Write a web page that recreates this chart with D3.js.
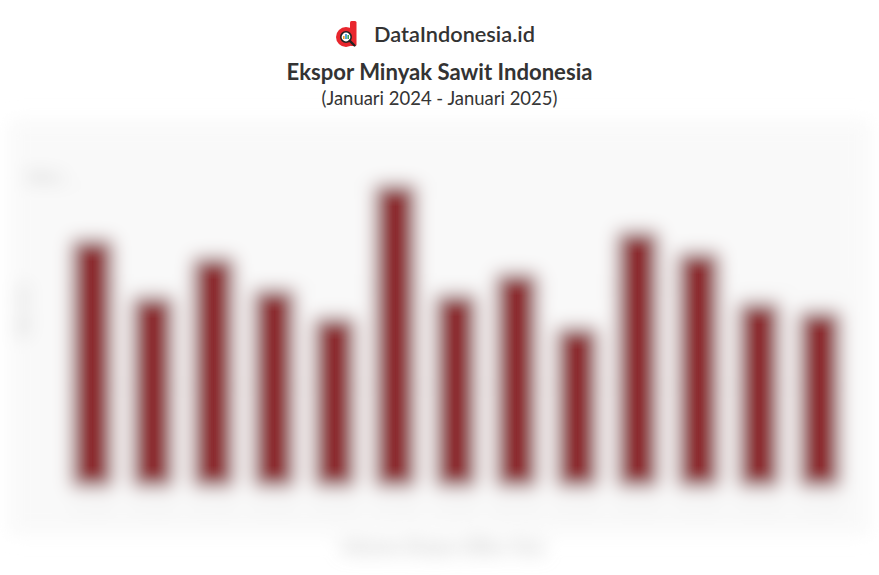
<!DOCTYPE html>
<html>
<head>
<meta charset="utf-8">
<script src="https://cdn.jsdelivr.net/npm/d3@7"></script>
<style>
  html, body { margin: 0; padding: 0; background: #ffffff; }
  svg { display: block; }
</style>
</head>
<body>
<svg id="chart" width="879" height="575"></svg>
<script>
// ---- data ----
const months = ["Jan 2024","Feb 2024","Mar 2024","Apr 2024","Mei 2024","Jun 2024","Jul 2024","Agu 2024","Sep 2024","Okt 2024","Nov 2024","Des 2024","Jan 2025"];
const exportsKTon = [2470, 1900, 2290, 1970, 1690, 3020, 1920, 2130, 1590, 2550, 2340, 1840, 1750];
const yTicks = [0, 1000, 2000, 3000];
const brandText = "DataIndonesia.id";
const titleText = "Ekspor Minyak Sawit Indonesia";
const subtitleText = "(Januari 2024 - Januari 2025)";
const yAxisTitle = "Ribu Ton";
const legendText = "Volume Ekspor (Ribu Ton)";

const W = 879, H = 575;
const svg = d3.select("#chart");
const FONT = "Lato, 'Noto Sans', 'DejaVu Sans', sans-serif";

function fitText(sel, targetW, startSize) {
  sel.attr("font-size", startSize);
  const w = sel.node().getComputedTextLength();
  sel.attr("font-size", startSize * targetW / w);
  return sel;
}

// ---- header ----
const header = svg.append("g");
const logo = header.append("g").attr("transform", "translate(347,36)");
logo.append("circle").attr("r", 10).attr("cx", -1).attr("cy", 1).attr("fill", "#e8262d");
logo.append("rect").attr("x", 3).attr("y", -15).attr("width", 6.5).attr("height", 25).attr("rx", 1.5).attr("fill", "#e8262d");
logo.append("circle").attr("r", 5.2).attr("cx", -1).attr("cy", 1).attr("fill", "#ffffff");
logo.append("rect").attr("x", -4).attr("y", 0).attr("width", 1.6).attr("height", 3).attr("fill", "#f4a21d");
logo.append("rect").attr("x", -1.8).attr("y", -2).attr("width", 1.6).attr("height", 5).attr("fill", "#2d8fd5");
logo.append("rect").attr("x", 0.4).attr("y", -1).attr("width", 1.6).attr("height", 4).attr("fill", "#3aa655");
logo.append("circle").attr("r", 5.2).attr("cx", -1).attr("cy", 1).attr("fill", "none").attr("stroke", "#222").attr("stroke-width", 1.6);
logo.append("line").attr("x1", 2.8).attr("y1", 4.8).attr("x2", 7.5).attr("y2", 9.5).attr("stroke", "#222").attr("stroke-width", 2.4).attr("stroke-linecap", "round");

const brand = header.append("text")
  .attr("x", 374).attr("y", 42)
  .attr("font-family", FONT).attr("font-weight", 600).attr("fill", "#333")
  .text(brandText);
fitText(brand, 161, 20);

const title = header.append("text")
  .attr("x", W / 2).attr("y", 80).attr("text-anchor", "middle")
  .attr("font-family", FONT).attr("font-weight", 700).attr("fill", "#333")
  .text(titleText);
fitText(title, 306, 19);

const subtitle = header.append("text")
  .attr("x", W / 2).attr("y", 105).attr("text-anchor", "middle")
  .attr("font-family", FONT).attr("font-weight", 400).attr("fill", "#333")
  .text(subtitleText);
fitText(subtitle, 236, 17);

// ---- chart (blurred, as in the reference) ----
const defs = svg.append("defs");
defs.append("filter").attr("id", "blur")
  .attr("x", "-5%").attr("y", "-5%").attr("width", "110%").attr("height", "110%")
  .append("feGaussianBlur").attr("stdDeviation", 9);

const chart = svg.append("g").attr("filter", "url(#blur)");

chart.append("rect").attr("x", 9).attr("y", 120).attr("width", 861).attr("height", 415)
  .attr("fill", "#f9f9f9");

const x = d3.scaleBand().domain(months).range([62, 850]).paddingInner(0.34).paddingOuter(0.17);
const y = d3.scaleLinear().domain([0, 3500]).range([487, 137]);

chart.append("g").selectAll("line").data(yTicks).join("line")
  .attr("x1", 62).attr("x2", 850)
  .attr("y1", d => y(d)).attr("y2", d => y(d))
  .attr("stroke", "#ececec").attr("stroke-width", 1);

chart.append("text").attr("x", 45).attr("y", 182).attr("text-anchor", "middle")
  .attr("font-family", FONT).attr("font-size", 14).attr("font-weight", 700).attr("fill", "#c4c4c4")
  .text("(Ribu)");
chart.append("text")
  .attr("transform", "translate(28,310) rotate(-90)")
  .attr("text-anchor", "middle")
  .attr("font-family", FONT).attr("font-size", 14).attr("font-weight", 700).attr("fill", "#c4c4c4")
  .text(yAxisTitle);

chart.append("g").selectAll("rect").data(months).join("rect")
  .attr("x", d => x(d))
  .attr("y", (d, i) => y(exportsKTon[i]))
  .attr("width", x.bandwidth())
  .attr("height", (d, i) => y(0) - y(exportsKTon[i]))
  .attr("fill", "#8a2426");

chart.append("g").selectAll("text").data(months).join("text")
  .attr("x", d => x(d) + x.bandwidth() / 2)
  .attr("y", 512)
  .attr("text-anchor", "middle")
  .attr("font-family", FONT).attr("font-size", 11).attr("fill", "#e4e4e4")
  .text(d => d);

chart.append("text").attr("x", 442).attr("y", 553).attr("text-anchor", "middle")
  .attr("font-family", FONT).attr("font-size", 18).attr("font-weight", 700).attr("fill", "#c8c8c8")
  .text(legendText);
</script>
</body>
</html>
